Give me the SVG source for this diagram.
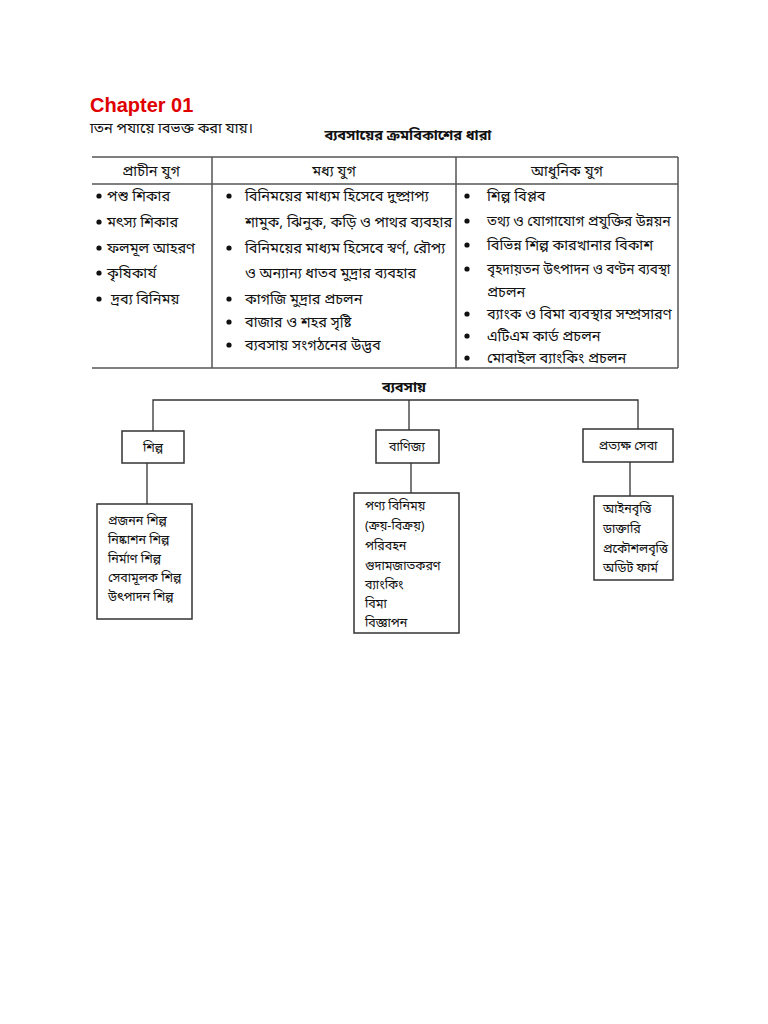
<svg xmlns="http://www.w3.org/2000/svg" width="768" height="1024" viewBox="0 0 768 1024">
<style>
text{font-family:"Noto Sans Bengali","Noto Sans","Liberation Sans",sans-serif;fill:#111}
.t{font-size:14.5px}
.s{font-size:12.5px}
.h{font-size:14.5px}
.b{font-weight:bold}
.ln{stroke:#333;stroke-width:1.3;fill:none}
.box{stroke:#333;stroke-width:1.5;fill:#fff}
.tl{stroke:#555;stroke-width:1.5;fill:none}
</style>
<defs>
<clipPath id="cl"><rect x="80" y="124" width="300" height="20"/></clipPath>
<g id="dot"><circle r="2.6" fill="#111"/></g>
</defs>
<rect width="768" height="1024" fill="#fff"/>
<text x="90" y="112" style="font-family:'Liberation Sans',sans-serif;font-weight:bold;font-size:20px;fill:#e00000">Chapter 01</text>
<text x="90" y="133" class="t" clip-path="url(#cl)">তিন পর্যায়ে বিভক্ত করা যায়।</text>
<text x="408" y="140" class="t b" text-anchor="middle">ব্যবসায়ের ক্রমবিকাশের ধারা</text>
<g id="table">
<path class="tl" d="M92 157H678M92 184H678M92 368H678M212 157V368M456 157V368M678 157V368"/>
<text x="151" y="176" class="h" text-anchor="middle">প্রাচীন যুগ</text>
<text x="334" y="176" class="h" text-anchor="middle">মধ্য যুগ</text>
<text x="567" y="176" class="h" text-anchor="middle">আধুনিক যুগ</text>
<g>
<use href="#dot" x="99" y="196"/><text x="107" y="201" class="t">পশু শিকার</text>
<use href="#dot" x="99" y="222"/><text x="107" y="227" class="t">মৎস্য শিকার</text>
<use href="#dot" x="99" y="248"/><text x="107" y="253" class="t">ফলমূল আহরণ</text>
<use href="#dot" x="99" y="273"/><text x="107" y="278" class="t">কৃষিকার্য</text>
<use href="#dot" x="99" y="299"/><text x="111" y="304" class="t">দ্রব্য বিনিময়</text>
</g>
<g>
<use href="#dot" x="229" y="196"/><text x="245" y="201" class="t">বিনিময়ের মাধ্যম হিসেবে দুষ্প্রাপ্য</text>
<text x="245" y="227" class="t">শামুক, ঝিনুক, কড়ি ও পাথর  ব্যবহার</text>
<use href="#dot" x="229" y="248"/><text x="245" y="253" class="t">বিনিময়ের মাধ্যম হিসেবে স্বর্ণ, রৌপ্য</text>
<text x="245" y="278" class="t">ও অন্যান্য ধাতব মুদ্রার ব্যবহার</text>
<use href="#dot" x="229" y="299"/><text x="245" y="304" class="t">কাগজি মুদ্রার প্রচলন</text>
<use href="#dot" x="229" y="322"/><text x="245" y="327" class="t">বাজার ও শহর সৃষ্টি</text>
<use href="#dot" x="229" y="345"/><text x="245" y="350" class="t">ব্যবসায় সংগঠনের উদ্ভব</text>
</g>
<g>
<use href="#dot" x="467" y="196"/><text x="487" y="201" class="t">শিল্প বিপ্লব</text>
<use href="#dot" x="467" y="221"/><text x="487" y="226" class="t" style="font-size:14px">তথ্য ও যোগাযোগ প্রযুক্তির উন্নয়ন</text>
<use href="#dot" x="467" y="245"/><text x="487" y="250" class="t">বিভিন্ন শিল্প কারখানার বিকাশ</text>
<use href="#dot" x="467" y="269"/><text x="487" y="274" class="t" style="font-size:13.6px">বৃহদায়তন উৎপাদন ও বণ্টন ব্যবস্থা</text>
<text x="487" y="297" class="t">প্রচলন</text>
<use href="#dot" x="467" y="314"/><text x="487" y="319" class="t">ব্যাংক ও বিমা  ব্যবস্থার সম্প্রসারণ</text>
<use href="#dot" x="467" y="336"/><text x="487" y="341" class="t">এটিএম কার্ড প্রচলন</text>
<use href="#dot" x="467" y="358"/><text x="487" y="363" class="t">মোবাইল ব্যাংকিং প্রচলন</text>
</g>
</g>
<g id="connectors">
<path class="ln" d="M153 431V400H638V429M409 400V430M147 463V504M411 463V493M630 462V496"/>
</g>
<g id="root"><text x="404" y="392" class="t b" text-anchor="middle">ব্যবসায়</text></g>
<g id="shilpo">
<rect class="box" x="122" y="431" width="62" height="32"/>
<text x="153" y="452" class="s" text-anchor="middle">শিল্প</text>
</g>
<g id="banijyo">
<rect class="box" x="376" y="430" width="63" height="33"/>
<text x="407" y="451" class="s" text-anchor="middle">বাণিজ্য</text>
</g>
<g id="protyokkho">
<rect class="box" x="583" y="429" width="90" height="33"/>
<text x="628" y="450" class="s" text-anchor="middle">প্রত্যক্ষ সেবা</text>
</g>
<g id="shilpo-list">
<rect class="box" x="97" y="504" width="95" height="115"/>
<text x="108" y="525" class="s">প্রজনন শিল্প</text>
<text x="108" y="544" class="s">নিষ্কাশন শিল্প</text>
<text x="108" y="563" class="s">নির্মাণ শিল্প</text>
<text x="108" y="582" class="s">সেবামূলক শিল্প</text>
<text x="108" y="601" class="s">উৎপাদন শিল্প</text>
</g>
<g id="banijyo-list">
<rect class="box" x="354" y="493" width="105" height="140"/>
<text x="365" y="510" class="s">পণ্য বিনিময়</text>
<text x="365" y="530" class="s">(ক্রয়-বিক্রয়)</text>
<text x="365" y="550" class="s">পরিবহন</text>
<text x="365" y="570" class="s">গুদামজাতকরণ</text>
<text x="365" y="589" class="s">ব্যাংকিং</text>
<text x="365" y="608" class="s">বিমা</text>
<text x="365" y="627" class="s">বিজ্ঞাপন</text>
</g>
<g id="protyokkho-list">
<rect class="box" x="594" y="496" width="79" height="84"/>
<text x="603" y="513" class="s">আইনবৃত্তি</text>
<text x="603" y="533" class="s">ডাক্তারি</text>
<text x="603" y="553" class="s">প্রকৌশলবৃত্তি</text>
<text x="603" y="572" class="s">অডিট ফার্ম</text>
</g>
</svg>
